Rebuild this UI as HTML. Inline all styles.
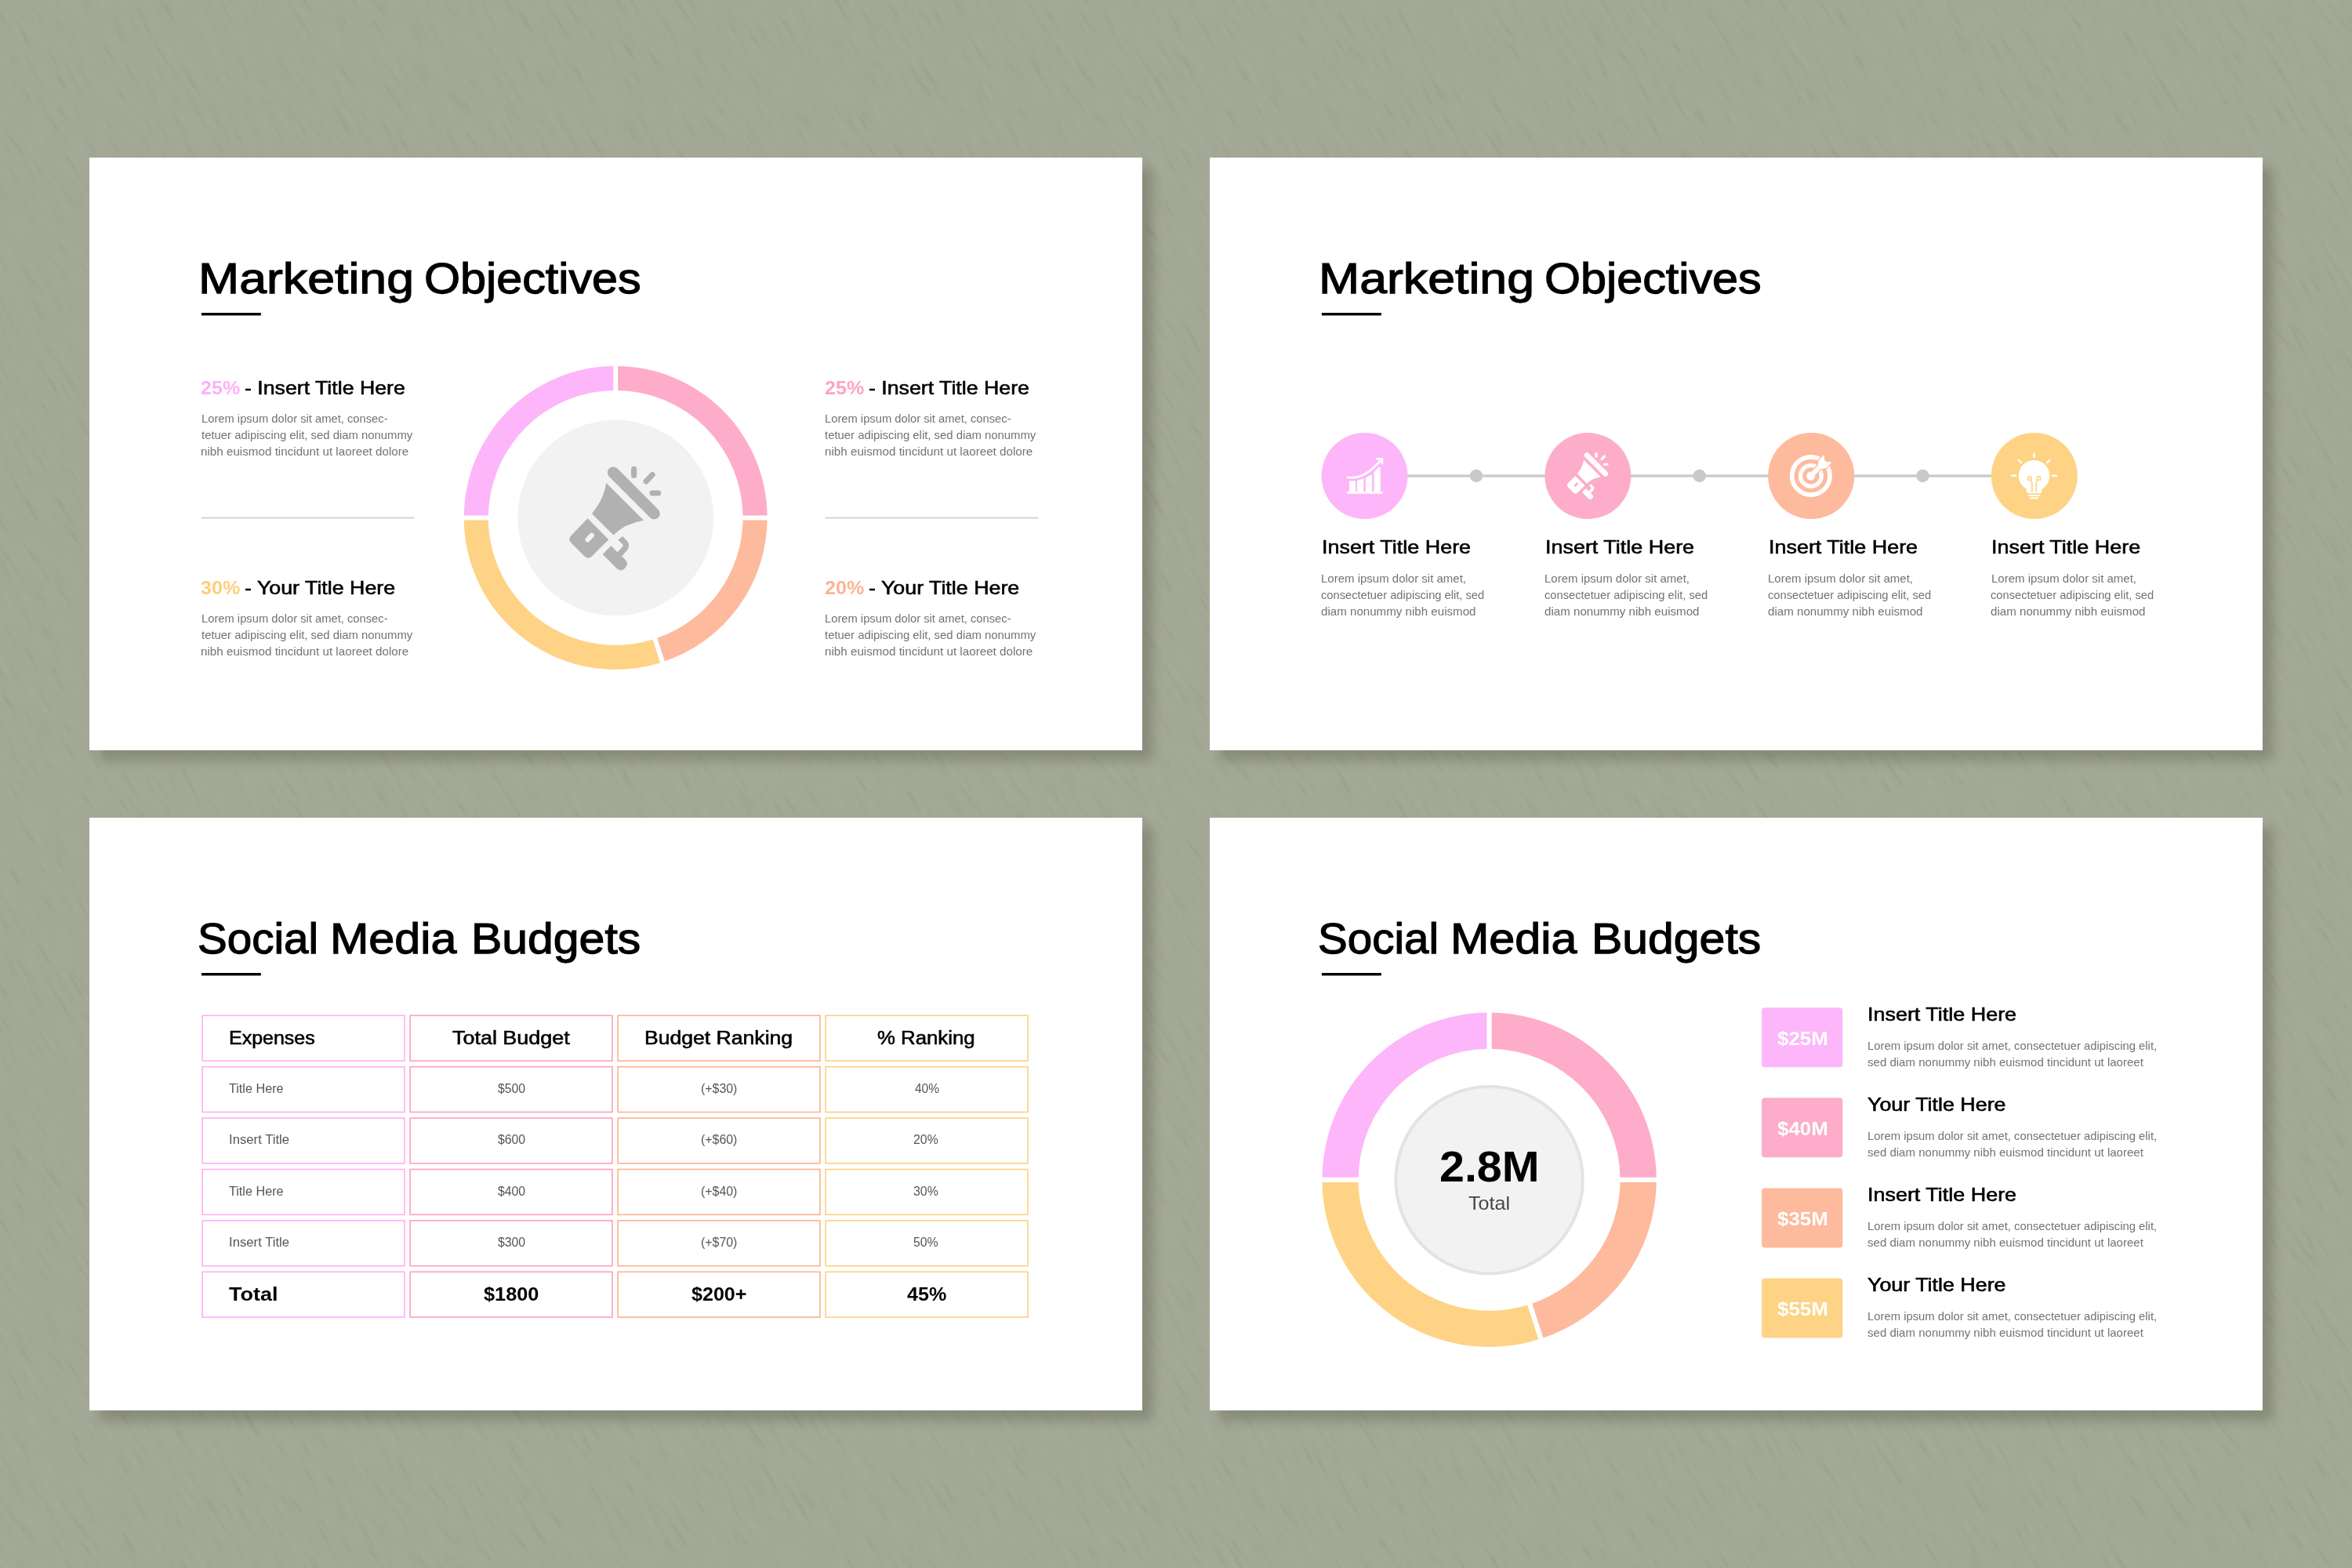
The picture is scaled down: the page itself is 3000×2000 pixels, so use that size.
<!DOCTYPE html>
<html lang="en"><head><meta charset="utf-8"><title>Marketing Slides</title>
<style>
html,body{margin:0;padding:0}
body{width:3000px;height:2000px;position:relative;overflow:hidden;background:#A2A694;font-family:"Liberation Sans", sans-serif}
.slide{position:absolute;width:1343px;height:756px;background:#fff;box-shadow:13px 13px 13px rgba(45,50,30,.23)}
.t{position:absolute;white-space:nowrap;margin:0;transform-origin:0 0}
svg.art{position:absolute;left:0;top:0;width:3000px;height:2000px;overflow:visible}
</style></head><body>
<svg id="wall" width="3000" height="2000" viewBox="0 0 3000 2000" style="position:absolute;left:0;top:0;mix-blend-mode:soft-light;opacity:.08">
<filter id="tx" x="0" y="0" width="100%" height="100%"><feTurbulence type="fractalNoise" baseFrequency="0.02 0.14" numOctaves="3" seed="7"/><feColorMatrix type="matrix" values="1.6 0 0 0 -0.36  1.6 0 0 0 -0.36  1.6 0 0 0 -0.36  0 0 0 0 1"/></filter>
<g transform="rotate(58 1500 1000)"><rect x="-320" y="-820" width="3640" height="3640" filter="url(#tx)"/></g>
</svg>
<div class="slide" style="left:114px;top:201px"></div>
<div class="slide" style="left:1543px;top:201px"></div>
<div class="slide" style="left:114px;top:1043px"></div>
<div class="slide" style="left:1543px;top:1043px"></div>
<svg class="art" viewBox="0 0 3000 2000">
<defs>
<symbol id="mega" viewBox="158 135 1149 1311">
<line x1="708" y1="223" x2="1220" y2="736" stroke="currentColor" stroke-width="145" stroke-linecap="round"/>
<path d="M620,353 L1088,820 Q850,860 710,1005 L440,735 Q590,560 620,353 Z" fill="currentColor"/>
<path d="M388,795 L650,1060 L442,1268 Q395,1315 348,1268 L182,1102 Q135,1055 182,1008 Z" fill="currentColor"/>
<line x1="388" y1="1062" x2="438" y2="1008" stroke="var(--bg)" stroke-width="62" stroke-linecap="round"/>
<path d="M680,1140 L760,1218 L822,1152 Q838,1135 822,1118 L768,1062 L825,1020 L880,1078 Q925,1130 880,1195 L815,1268 L858,1312 Q905,1362 860,1410 L840,1430 Q800,1462 758,1428 L575,1245 Z" fill="currentColor"/>
<g stroke="currentColor" stroke-width="70" stroke-linecap="round">
<line x1="966" y1="180" x2="966" y2="258"/>
<line x1="1196" y1="251" x2="1118" y2="333"/>
<line x1="1195" y1="480" x2="1271" y2="480"/>
</g>
</symbol>
<symbol id="chart" viewBox="0 0 1568 1568">
<g fill="#fff">
<rect x="535" y="895" width="105" height="185" rx="10"/>
<path d="M668,1080 V885 L775,855 V1080 Z"/>
<path d="M808,1080 V842 L915,785 V1080 Z"/>
<path d="M948,1080 V748 L1030,662 H1055 V1080 Z"/>
</g>
<g fill="none" stroke="#fff" stroke-width="36" stroke-linecap="round" stroke-linejoin="round">
<line x1="512" y1="1090" x2="1075" y2="1090"/>
<path d="M512,836 Q790,880 1072,535"/>
<path d="M1000,528 H1083 V605"/>
</g>
</symbol>
<symbol id="target" viewBox="0 0 1568 1568">
<circle cx="782" cy="810" r="316" fill="none" stroke="#fff" stroke-width="75"/>
<circle cx="782" cy="810" r="174.5" fill="none" stroke="#fff" stroke-width="71"/>
<circle cx="782" cy="810" r="74" fill="#fff"/>
<path d="M782,747 L899,636.5 L907,554 L1004,457 L1008,544 L1039,579 L1132,579 L1034,682 L950,693 L840,810 Z" fill="#fff" stroke="var(--bg)" stroke-width="36" paint-order="stroke" stroke-linejoin="round"/>
<circle cx="782" cy="810" r="62" fill="#fff"/>
</symbol>
<symbol id="bulb" viewBox="0 0 1568 1568">
<path d="M648,1030 A258,258 0 1 1 908,1030 V1062 Q905,1102 865,1102 H692 Q652,1102 648,1062 Z" fill="#fff"/>
<rect x="680" y="1125" width="198" height="26" rx="8" fill="#fff"/>
<rect x="705" y="1165" width="146" height="26" rx="10" fill="#fff"/>
<g fill="none" stroke="var(--bg)" stroke-width="22" stroke-linecap="round" stroke-linejoin="round">
<circle cx="700" cy="852" r="30"/>
<circle cx="855" cy="852" r="30"/>
<path d="M722,878 L742,925 V1072"/>
<path d="M833,878 L813,925 V1072"/>
</g>
<g stroke="#fff" stroke-width="32" stroke-linecap="round">
<line x1="778" y1="442" x2="778" y2="498"/>
<line x1="518" y1="548" x2="562" y2="590"/>
<line x1="1038" y1="548" x2="994" y2="590"/>
<line x1="408" y1="808" x2="472" y2="808"/>
<line x1="1086" y1="808" x2="1150" y2="808"/>
</g>
</symbol>

</defs>
<rect x="256.9" y="399" width="75.9" height="3.4" fill="#000"/>
<rect x="1685.9" y="399" width="75.9" height="3.4" fill="#000"/>
<rect x="256.9" y="1241" width="75.9" height="3.4" fill="#000"/>
<rect x="1685.9" y="1241" width="75.9" height="3.4" fill="#000"/>
<rect x="257" y="659.8" width="271.5" height="1.5" fill="#c6c6c6"/>
<rect x="1052.5" y="659.8" width="271.5" height="1.5" fill="#c6c6c6"/>
<path d="M785.20,466.90 A193.5,193.5 0 0 1 978.70,660.40 L947.60,660.40 A162.4,162.4 0 0 0 785.20,498.00 Z" fill="#FDADC9"/>
<path d="M978.70,660.40 A193.5,193.5 0 0 1 844.99,844.43 L835.38,814.85 A162.4,162.4 0 0 0 947.60,660.40 Z" fill="#FDBA9D"/>
<path d="M844.99,844.43 A193.5,193.5 0 0 1 591.70,660.40 L622.80,660.40 A162.4,162.4 0 0 0 835.38,814.85 Z" fill="#FED385"/>
<path d="M591.70,660.40 A193.5,193.5 0 0 1 785.20,466.90 L785.20,498.00 A162.4,162.4 0 0 0 622.80,660.40 Z" fill="#FDB6F9"/>
<line x1="785.20" y1="501.00" x2="785.20" y2="463.90" stroke="#fff" stroke-width="6"/>
<line x1="944.60" y1="660.40" x2="981.70" y2="660.40" stroke="#fff" stroke-width="6"/>
<line x1="834.46" y1="812.00" x2="845.92" y2="847.28" stroke="#fff" stroke-width="6"/>
<line x1="625.80" y1="660.40" x2="588.70" y2="660.40" stroke="#fff" stroke-width="6"/>
<circle cx="785.2" cy="660.5" r="125" fill="#F2F2F2"/>
<use href="#mega" x="726.1" y="593.8" width="117.3" height="133.8" color="#B1B1B1" style="--bg:#F2F2F2"/>
<rect x="1790" y="605.4" width="760" height="3.2" fill="#C9C9C9"/>
<circle cx="1883" cy="607" r="8.3" fill="#C9C9C9"/>
<circle cx="2167.7" cy="607" r="8.3" fill="#C9C9C9"/>
<circle cx="2452.4" cy="607" r="8.3" fill="#C9C9C9"/>
<circle cx="1740.6" cy="607" r="55" fill="#FDB6F9"/>
<circle cx="2025.4" cy="607" r="55" fill="#FDADC9"/>
<circle cx="2310.2" cy="607" r="55" fill="#FDBA9D"/>
<circle cx="2594.8" cy="607" r="55" fill="#FED385"/>
<use href="#chart" x="1680" y="545" width="120" height="120" style="--bg:#FDB6F9"/>
<use href="#mega" x="1998.7" y="576.4" width="53.1" height="60.8" color="#fff" style="--bg:#FDADC9"/>
<use href="#target" x="2250" y="545" width="120" height="120" style="--bg:#FDBA9D"/>
<use href="#bulb" x="2535" y="545" width="120" height="120" style="--bg:#FED385"/>
<rect x="258.10" y="1295.30" width="257.8" height="57.8" fill="#fff" stroke="#FDAFF8" stroke-width="1.6"/>
<rect x="258.10" y="1360.70" width="257.8" height="57.8" fill="#fff" stroke="#FDAFF8" stroke-width="1.6"/>
<rect x="258.10" y="1426.10" width="257.8" height="57.8" fill="#fff" stroke="#FDAFF8" stroke-width="1.6"/>
<rect x="258.10" y="1491.50" width="257.8" height="57.8" fill="#fff" stroke="#FDAFF8" stroke-width="1.6"/>
<rect x="258.10" y="1556.90" width="257.8" height="57.8" fill="#fff" stroke="#FDAFF8" stroke-width="1.6"/>
<rect x="258.10" y="1622.30" width="257.8" height="57.8" fill="#fff" stroke="#FDAFF8" stroke-width="1.6"/>
<rect x="523.10" y="1295.30" width="257.8" height="57.8" fill="#fff" stroke="#FC9FBB" stroke-width="1.6"/>
<rect x="523.10" y="1360.70" width="257.8" height="57.8" fill="#fff" stroke="#FC9FBB" stroke-width="1.6"/>
<rect x="523.10" y="1426.10" width="257.8" height="57.8" fill="#fff" stroke="#FC9FBB" stroke-width="1.6"/>
<rect x="523.10" y="1491.50" width="257.8" height="57.8" fill="#fff" stroke="#FC9FBB" stroke-width="1.6"/>
<rect x="523.10" y="1556.90" width="257.8" height="57.8" fill="#fff" stroke="#FC9FBB" stroke-width="1.6"/>
<rect x="523.10" y="1622.30" width="257.8" height="57.8" fill="#fff" stroke="#FC9FBB" stroke-width="1.6"/>
<rect x="788.10" y="1295.30" width="257.8" height="57.8" fill="#fff" stroke="#FDB18C" stroke-width="1.6"/>
<rect x="788.10" y="1360.70" width="257.8" height="57.8" fill="#fff" stroke="#FDB18C" stroke-width="1.6"/>
<rect x="788.10" y="1426.10" width="257.8" height="57.8" fill="#fff" stroke="#FDB18C" stroke-width="1.6"/>
<rect x="788.10" y="1491.50" width="257.8" height="57.8" fill="#fff" stroke="#FDB18C" stroke-width="1.6"/>
<rect x="788.10" y="1556.90" width="257.8" height="57.8" fill="#fff" stroke="#FDB18C" stroke-width="1.6"/>
<rect x="788.10" y="1622.30" width="257.8" height="57.8" fill="#fff" stroke="#FDB18C" stroke-width="1.6"/>
<rect x="1053.10" y="1295.30" width="257.8" height="57.8" fill="#fff" stroke="#FDD080" stroke-width="1.6"/>
<rect x="1053.10" y="1360.70" width="257.8" height="57.8" fill="#fff" stroke="#FDD080" stroke-width="1.6"/>
<rect x="1053.10" y="1426.10" width="257.8" height="57.8" fill="#fff" stroke="#FDD080" stroke-width="1.6"/>
<rect x="1053.10" y="1491.50" width="257.8" height="57.8" fill="#fff" stroke="#FDD080" stroke-width="1.6"/>
<rect x="1053.10" y="1556.90" width="257.8" height="57.8" fill="#fff" stroke="#FDD080" stroke-width="1.6"/>
<rect x="1053.10" y="1622.30" width="257.8" height="57.8" fill="#fff" stroke="#FDD080" stroke-width="1.6"/>
<path d="M1899.60,1291.60 A213.2,213.2 0 0 1 2112.80,1504.80 L2066.60,1504.80 A167,167 0 0 0 1899.60,1337.80 Z" fill="#FDADC9"/>
<path d="M2112.80,1504.80 A213.2,213.2 0 0 1 1965.48,1707.57 L1951.21,1663.63 A167,167 0 0 0 2066.60,1504.80 Z" fill="#FDBA9D"/>
<path d="M1965.48,1707.57 A213.2,213.2 0 0 1 1686.40,1504.80 L1732.60,1504.80 A167,167 0 0 0 1951.21,1663.63 Z" fill="#FED385"/>
<path d="M1686.40,1504.80 A213.2,213.2 0 0 1 1899.60,1291.60 L1899.60,1337.80 A167,167 0 0 0 1732.60,1504.80 Z" fill="#FDB6F9"/>
<line x1="1899.60" y1="1340.80" x2="1899.60" y2="1288.60" stroke="#fff" stroke-width="6.3"/>
<line x1="2063.60" y1="1504.80" x2="2115.80" y2="1504.80" stroke="#fff" stroke-width="6.3"/>
<line x1="1950.28" y1="1660.77" x2="1966.41" y2="1710.42" stroke="#fff" stroke-width="6.3"/>
<line x1="1735.60" y1="1504.80" x2="1683.40" y2="1504.80" stroke="#fff" stroke-width="6.3"/>
<circle cx="1899.6" cy="1505.2" r="119.2" fill="#F2F2F2" stroke="#E3E3E3" stroke-width="4"/>
<rect x="2247.1" y="1285.20" width="103.2" height="76" rx="3.8" fill="#FDB6F9"/>
<rect x="2247.1" y="1400.30" width="103.2" height="76" rx="3.8" fill="#FDADC9"/>
<rect x="2247.1" y="1515.40" width="103.2" height="76" rx="3.8" fill="#FDBA9D"/>
<rect x="2247.1" y="1630.50" width="103.2" height="76" rx="3.8" fill="#FED385"/>
</svg>
<div class="t" id="t1a" style="left:252.80px;top:317.67px;font-size:55.8px;line-height:73px;color:#000;-webkit-text-stroke:1.25px #000;transform:scaleX(1.1225);">Marketing</div>
<div class="t" id="t1b" style="left:540.81px;top:317.67px;font-size:55.8px;line-height:73px;color:#000;-webkit-text-stroke:1.25px #000;transform:scaleX(1.0621);">Objectives</div>
<div class="t" id="t2a" style="left:1681.80px;top:317.67px;font-size:55.8px;line-height:73px;color:#000;-webkit-text-stroke:1.25px #000;transform:scaleX(1.1225);">Marketing</div>
<div class="t" id="t2b" style="left:1969.81px;top:317.67px;font-size:55.8px;line-height:73px;color:#000;-webkit-text-stroke:1.25px #000;transform:scaleX(1.0621);">Objectives</div>
<div class="t" id="t3a" style="left:251.96px;top:1159.67px;font-size:55.8px;line-height:73px;color:#000;-webkit-text-stroke:1.25px #000;transform:scaleX(1.0138);">Social</div>
<div class="t" id="t3b" style="left:420.80px;top:1159.67px;font-size:55.8px;line-height:73px;color:#000;-webkit-text-stroke:1.25px #000;transform:scaleX(1.0619);">Media</div>
<div class="t" id="t3c" style="left:600.74px;top:1159.67px;font-size:55.8px;line-height:73px;color:#000;-webkit-text-stroke:1.25px #000;transform:scaleX(1.0560);">Budgets</div>
<div class="t" id="t4a" style="left:1680.96px;top:1159.67px;font-size:55.8px;line-height:73px;color:#000;-webkit-text-stroke:1.25px #000;transform:scaleX(1.0138);">Social</div>
<div class="t" id="t4b" style="left:1849.80px;top:1159.67px;font-size:55.8px;line-height:73px;color:#000;-webkit-text-stroke:1.25px #000;transform:scaleX(1.0619);">Media</div>
<div class="t" id="t4c" style="left:2029.74px;top:1159.67px;font-size:55.8px;line-height:73px;color:#000;-webkit-text-stroke:1.25px #000;transform:scaleX(1.0560);">Budgets</div>
<div class="t" id="h1ap" style="left:256.40px;top:478.51px;font-size:24.5px;line-height:32px;color:#FDB0F8;font-weight:700;transform:scaleX(1.0239);">25%</div>
<div class="t" id="h1ar" style="left:312.45px;top:478.51px;font-size:24.5px;line-height:32px;color:#000;-webkit-text-stroke:0.6px #000;transform:scaleX(1.0901);">- Insert Title Here</div>
<div class="t" id="b1a_0" style="left:256.54px;top:524.97px;font-size:14.8px;line-height:19px;color:#737373;transform:scaleX(0.9961);">Lorem ipsum dolor sit amet, consec-</div>
<div class="t" id="b1a_1" style="left:257.00px;top:545.97px;font-size:14.8px;line-height:19px;color:#737373;transform:scaleX(1.0044);">tetuer adipiscing elit, sed diam nonummy</div>
<div class="t" id="b1a_2" style="left:256.48px;top:566.97px;font-size:14.8px;line-height:19px;color:#737373;transform:scaleX(1.0272);">nibh euismod tincidunt ut laoreet dolore</div>
<div class="t" id="h1bp" style="left:256.40px;top:733.51px;font-size:24.5px;line-height:32px;color:#FECE7C;font-weight:700;transform:scaleX(1.0239);">30%</div>
<div class="t" id="h1br" style="left:312.45px;top:733.51px;font-size:24.5px;line-height:32px;color:#000;-webkit-text-stroke:0.6px #000;transform:scaleX(1.0940);">- Your Title Here</div>
<div class="t" id="b1b_0" style="left:256.54px;top:780.47px;font-size:14.8px;line-height:19px;color:#737373;transform:scaleX(0.9961);">Lorem ipsum dolor sit amet, consec-</div>
<div class="t" id="b1b_1" style="left:257.00px;top:801.47px;font-size:14.8px;line-height:19px;color:#737373;transform:scaleX(1.0044);">tetuer adipiscing elit, sed diam nonummy</div>
<div class="t" id="b1b_2" style="left:256.48px;top:822.47px;font-size:14.8px;line-height:19px;color:#737373;transform:scaleX(1.0272);">nibh euismod tincidunt ut laoreet dolore</div>
<div class="t" id="h1cp" style="left:1052.22px;top:478.51px;font-size:24.5px;line-height:32px;color:#FDA5C3;font-weight:700;transform:scaleX(1.0239);">25%</div>
<div class="t" id="h1cr" style="left:1107.57px;top:478.51px;font-size:24.5px;line-height:32px;color:#000;-webkit-text-stroke:0.6px #000;transform:scaleX(1.0906);">- Insert Title Here</div>
<div class="t" id="b1c_0" style="left:1052.36px;top:524.97px;font-size:14.8px;line-height:19px;color:#737373;transform:scaleX(0.9961);">Lorem ipsum dolor sit amet, consec-</div>
<div class="t" id="b1c_1" style="left:1052.12px;top:545.97px;font-size:14.8px;line-height:19px;color:#737373;transform:scaleX(1.0044);">tetuer adipiscing elit, sed diam nonummy</div>
<div class="t" id="b1c_2" style="left:1052.30px;top:566.97px;font-size:14.8px;line-height:19px;color:#737373;transform:scaleX(1.0272);">nibh euismod tincidunt ut laoreet dolore</div>
<div class="t" id="h1dp" style="left:1052.22px;top:733.51px;font-size:24.5px;line-height:32px;color:#FDB395;font-weight:700;transform:scaleX(1.0239);">20%</div>
<div class="t" id="h1dr" style="left:1107.57px;top:733.51px;font-size:24.5px;line-height:32px;color:#000;-webkit-text-stroke:0.6px #000;transform:scaleX(1.0944);">- Your Title Here</div>
<div class="t" id="b1d_0" style="left:1052.36px;top:780.47px;font-size:14.8px;line-height:19px;color:#737373;transform:scaleX(0.9961);">Lorem ipsum dolor sit amet, consec-</div>
<div class="t" id="b1d_1" style="left:1052.12px;top:801.47px;font-size:14.8px;line-height:19px;color:#737373;transform:scaleX(1.0044);">tetuer adipiscing elit, sed diam nonummy</div>
<div class="t" id="b1d_2" style="left:1052.30px;top:822.47px;font-size:14.8px;line-height:19px;color:#737373;transform:scaleX(1.0272);">nibh euismod tincidunt ut laoreet dolore</div>
<div class="t" id="h2_0" style="left:1685.81px;top:682.11px;font-size:24.5px;line-height:32px;color:#000;-webkit-text-stroke:0.6px #000;transform:scaleX(1.0992);">Insert Title Here</div>
<div class="t" id="b2_0_0" style="left:1685.45px;top:728.67px;font-size:14.8px;line-height:19px;color:#737373;transform:scaleX(1.0135);">Lorem ipsum dolor sit amet,</div>
<div class="t" id="b2_0_1" style="left:1685.33px;top:749.67px;font-size:14.8px;line-height:19px;color:#737373;transform:scaleX(0.9924);">consectetuer adipiscing elit, sed</div>
<div class="t" id="b2_0_2" style="left:1685.33px;top:770.77px;font-size:14.8px;line-height:19px;color:#737373;transform:scaleX(1.0219);">diam nonummy nibh euismod</div>
<div class="t" id="h2_1" style="left:1970.75px;top:682.11px;font-size:24.5px;line-height:32px;color:#000;-webkit-text-stroke:0.6px #000;transform:scaleX(1.0992);">Insert Title Here</div>
<div class="t" id="b2_1_0" style="left:1970.39px;top:728.67px;font-size:14.8px;line-height:19px;color:#737373;transform:scaleX(1.0135);">Lorem ipsum dolor sit amet,</div>
<div class="t" id="b2_1_1" style="left:1969.57px;top:749.67px;font-size:14.8px;line-height:19px;color:#737373;transform:scaleX(0.9924);">consectetuer adipiscing elit, sed</div>
<div class="t" id="b2_1_2" style="left:1969.57px;top:770.77px;font-size:14.8px;line-height:19px;color:#737373;transform:scaleX(1.0220);">diam nonummy nibh euismod</div>
<div class="t" id="h2_2" style="left:2255.69px;top:682.11px;font-size:24.5px;line-height:32px;color:#000;-webkit-text-stroke:0.6px #000;transform:scaleX(1.0992);">Insert Title Here</div>
<div class="t" id="b2_2_0" style="left:2255.33px;top:728.67px;font-size:14.8px;line-height:19px;color:#737373;transform:scaleX(1.0135);">Lorem ipsum dolor sit amet,</div>
<div class="t" id="b2_2_1" style="left:2254.51px;top:749.67px;font-size:14.8px;line-height:19px;color:#737373;transform:scaleX(0.9924);">consectetuer adipiscing elit, sed</div>
<div class="t" id="b2_2_2" style="left:2254.51px;top:770.77px;font-size:14.8px;line-height:19px;color:#737373;transform:scaleX(1.0219);">diam nonummy nibh euismod</div>
<div class="t" id="h2_3" style="left:2539.87px;top:682.11px;font-size:24.5px;line-height:32px;color:#000;-webkit-text-stroke:0.6px #000;transform:scaleX(1.0996);">Insert Title Here</div>
<div class="t" id="b2_3_0" style="left:2539.51px;top:728.67px;font-size:14.8px;line-height:19px;color:#737373;transform:scaleX(1.0135);">Lorem ipsum dolor sit amet,</div>
<div class="t" id="b2_3_1" style="left:2539.39px;top:749.67px;font-size:14.8px;line-height:19px;color:#737373;transform:scaleX(0.9924);">consectetuer adipiscing elit, sed</div>
<div class="t" id="b2_3_2" style="left:2539.39px;top:770.77px;font-size:14.8px;line-height:19px;color:#737373;transform:scaleX(1.0219);">diam nonummy nibh euismod</div>
<div class="t" id="th0" style="left:291.87px;top:1308.11px;font-size:24.2px;line-height:31px;color:#000;-webkit-text-stroke:0.6px #000;transform:scaleX(1.0334);">Expenses</div>
<div class="t" id="tt0" style="left:292.15px;top:1635.24px;font-size:24.7px;line-height:32px;color:#000;font-weight:700;transform:scaleX(1.0962);">Total</div>
<div class="t" id="td00" style="left:292.00px;top:1378.05px;font-size:16.3px;line-height:21px;color:#555;transform:scaleX(0.9935);">Title Here</div>
<div class="t" id="td10" style="left:292.48px;top:1443.45px;font-size:16.3px;line-height:21px;color:#555;transform:scaleX(1.0268);">Insert Title</div>
<div class="t" id="td20" style="left:292.00px;top:1508.85px;font-size:16.3px;line-height:21px;color:#555;transform:scaleX(0.9935);">Title Here</div>
<div class="t" id="td30" style="left:292.48px;top:1574.25px;font-size:16.3px;line-height:21px;color:#555;transform:scaleX(1.0268);">Insert Title</div>
<div class="t" id="th1" style="left:577.09px;top:1308.11px;font-size:24.2px;line-height:31px;color:#000;-webkit-text-stroke:0.6px #000;transform:scaleX(1.1131);">Total Budget</div>
<div class="t" id="tt1" style="left:617.09px;top:1635.24px;font-size:24.7px;line-height:32px;color:#000;font-weight:700;transform:scaleX(1.0261);">$1800</div>
<div class="t" id="td01" style="left:634.91px;top:1378.05px;font-size:16.3px;line-height:21px;color:#555;transform:scaleX(0.9698);">$500</div>
<div class="t" id="td11" style="left:634.91px;top:1443.45px;font-size:16.3px;line-height:21px;color:#555;transform:scaleX(0.9698);">$600</div>
<div class="t" id="td21" style="left:634.91px;top:1508.85px;font-size:16.3px;line-height:21px;color:#555;transform:scaleX(0.9698);">$400</div>
<div class="t" id="td31" style="left:634.91px;top:1574.25px;font-size:16.3px;line-height:21px;color:#555;transform:scaleX(0.9698);">$300</div>
<div class="t" id="th2" style="left:822.01px;top:1308.11px;font-size:24.2px;line-height:31px;color:#000;-webkit-text-stroke:0.6px #000;transform:scaleX(1.0986);">Budget Ranking</div>
<div class="t" id="tt2" style="left:882.09px;top:1635.24px;font-size:24.7px;line-height:32px;color:#000;font-weight:700;transform:scaleX(1.0163);">$200+</div>
<div class="t" id="td02" style="left:893.51px;top:1378.05px;font-size:16.3px;line-height:21px;color:#555;transform:scaleX(0.9763);">(+$30)</div>
<div class="t" id="td12" style="left:893.51px;top:1443.45px;font-size:16.3px;line-height:21px;color:#555;transform:scaleX(0.9763);">(+$60)</div>
<div class="t" id="td22" style="left:893.51px;top:1508.85px;font-size:16.3px;line-height:21px;color:#555;transform:scaleX(0.9763);">(+$40)</div>
<div class="t" id="td32" style="left:893.51px;top:1574.25px;font-size:16.3px;line-height:21px;color:#555;transform:scaleX(0.9763);">(+$70)</div>
<div class="t" id="th3" style="left:1119.49px;top:1308.11px;font-size:24.2px;line-height:31px;color:#000;-webkit-text-stroke:0.6px #000;transform:scaleX(1.0653);">% Ranking</div>
<div class="t" id="tt3" style="left:1157.03px;top:1635.24px;font-size:24.7px;line-height:32px;color:#000;font-weight:700;transform:scaleX(1.0175);">45%</div>
<div class="t" id="td03" style="left:1166.86px;top:1378.05px;font-size:16.3px;line-height:21px;color:#555;transform:scaleX(0.9513);">40%</div>
<div class="t" id="td13" style="left:1165.46px;top:1443.45px;font-size:16.3px;line-height:21px;color:#555;transform:scaleX(0.9735);">20%</div>
<div class="t" id="td23" style="left:1165.46px;top:1508.85px;font-size:16.3px;line-height:21px;color:#555;transform:scaleX(0.9735);">30%</div>
<div class="t" id="td33" style="left:1165.46px;top:1574.25px;font-size:16.3px;line-height:21px;color:#555;transform:scaleX(0.9726);">50%</div>
<div class="t" id="big" style="left:1835.86px;top:1450.80px;font-size:56px;line-height:73px;color:#000;font-weight:700;transform:scaleX(1.0247);">2.8M</div>
<div class="t" id="tot" style="left:1873.08px;top:1518.78px;font-size:24px;line-height:31px;color:#454545;transform:scaleX(1.0448);">Total</div>
<div class="t" id="bx0" style="left:2266.91px;top:1308.81px;font-size:24.5px;line-height:32px;color:#fff;font-weight:700;transform:scaleX(1.0578);">$25M</div>
<div class="t" id="h4_0" style="left:2381.81px;top:1278.01px;font-size:24.5px;line-height:32px;color:#000;-webkit-text-stroke:0.6px #000;transform:scaleX(1.0992);">Insert Title Here</div>
<div class="t" id="b4_0_0" style="left:2381.57px;top:1324.97px;font-size:14.8px;line-height:19px;color:#737373;transform:scaleX(1.0019);">Lorem ipsum dolor sit amet, consectetuer adipiscing elit,</div>
<div class="t" id="b4_0_1" style="left:2382.12px;top:1345.77px;font-size:14.8px;line-height:19px;color:#737373;transform:scaleX(1.0161);">sed diam nonummy nibh euismod tincidunt ut laoreet</div>
<div class="t" id="bx1" style="left:2266.91px;top:1423.91px;font-size:24.5px;line-height:32px;color:#fff;font-weight:700;transform:scaleX(1.0578);">$40M</div>
<div class="t" id="h4_1" style="left:2381.88px;top:1393.11px;font-size:24.5px;line-height:32px;color:#000;-webkit-text-stroke:0.6px #000;transform:scaleX(1.0953);">Your Title Here</div>
<div class="t" id="b4_1_0" style="left:2381.57px;top:1440.07px;font-size:14.8px;line-height:19px;color:#737373;transform:scaleX(1.0019);">Lorem ipsum dolor sit amet, consectetuer adipiscing elit,</div>
<div class="t" id="b4_1_1" style="left:2382.12px;top:1460.87px;font-size:14.8px;line-height:19px;color:#737373;transform:scaleX(1.0161);">sed diam nonummy nibh euismod tincidunt ut laoreet</div>
<div class="t" id="bx2" style="left:2266.91px;top:1539.01px;font-size:24.5px;line-height:32px;color:#fff;font-weight:700;transform:scaleX(1.0578);">$35M</div>
<div class="t" id="h4_2" style="left:2381.81px;top:1508.21px;font-size:24.5px;line-height:32px;color:#000;-webkit-text-stroke:0.6px #000;transform:scaleX(1.0992);">Insert Title Here</div>
<div class="t" id="b4_2_0" style="left:2381.57px;top:1555.17px;font-size:14.8px;line-height:19px;color:#737373;transform:scaleX(1.0019);">Lorem ipsum dolor sit amet, consectetuer adipiscing elit,</div>
<div class="t" id="b4_2_1" style="left:2382.12px;top:1575.97px;font-size:14.8px;line-height:19px;color:#737373;transform:scaleX(1.0161);">sed diam nonummy nibh euismod tincidunt ut laoreet</div>
<div class="t" id="bx3" style="left:2266.91px;top:1654.11px;font-size:24.5px;line-height:32px;color:#fff;font-weight:700;transform:scaleX(1.0578);">$55M</div>
<div class="t" id="h4_3" style="left:2381.88px;top:1623.31px;font-size:24.5px;line-height:32px;color:#000;-webkit-text-stroke:0.6px #000;transform:scaleX(1.0953);">Your Title Here</div>
<div class="t" id="b4_3_0" style="left:2381.57px;top:1670.27px;font-size:14.8px;line-height:19px;color:#737373;transform:scaleX(1.0019);">Lorem ipsum dolor sit amet, consectetuer adipiscing elit,</div>
<div class="t" id="b4_3_1" style="left:2382.12px;top:1691.07px;font-size:14.8px;line-height:19px;color:#737373;transform:scaleX(1.0161);">sed diam nonummy nibh euismod tincidunt ut laoreet</div>
</body></html>
